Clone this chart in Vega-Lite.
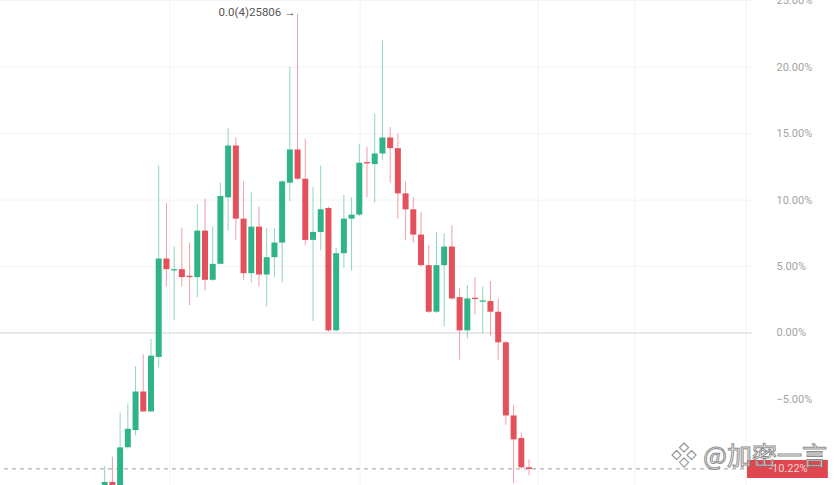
{
  "$schema": "https://vega.github.io/schema/vega-lite/v6.json",
  "width": 752,
  "height": 485,
  "padding": {"left": 0, "top": 0, "bottom": 0, "right": 84},
  "autosize": {"type": "none"},
  "background": "#ffffff",
  "config": {"view": {"stroke": null}, "font": "Roboto"},
  "datasets": {
    "candles": [
      {"i":0,"o":-12.5,"c":-11.2,"h":-10.0,"l":-13,"d":"up"},
      {"i":1,"o":-11.2,"c":-12.0,"h":-9.3,"l":-12.5,"d":"down"},
      {"i":2,"o":-12.5,"c":-8.6,"h":-6.0,"l":-12.8,"d":"up"},
      {"i":3,"o":-8.6,"c":-7.2,"h":-5.3,"l":-8.7,"d":"up"},
      {"i":4,"o":-7.3,"c":-4.4,"h":-2.5,"l":-7.7,"d":"up"},
      {"i":5,"o":-4.4,"c":-5.9,"h":-1.6,"l":-5.9,"d":"down"},
      {"i":6,"o":-5.9,"c":-1.7,"h":-0.45,"l":-5.9,"d":"up"},
      {"i":7,"o":-1.8,"c":5.6,"h":12.6,"l":-2.6,"d":"up"},
      {"i":8,"o":5.6,"c":4.8,"h":9.8,"l":3.5,"d":"down"},
      {"i":9,"o":4.7,"c":4.8,"h":6.5,"l":1.0,"d":"up"},
      {"i":10,"o":4.8,"c":4.2,"h":7.9,"l":3.5,"d":"down"},
      {"i":11,"o":4.3,"c":4.2,"h":6.8,"l":2.1,"d":"down"},
      {"i":12,"o":4.2,"c":7.7,"h":9.7,"l":2.7,"d":"up"},
      {"i":13,"o":7.7,"c":4.0,"h":10.1,"l":3.2,"d":"down"},
      {"i":14,"o":4.0,"c":5.2,"h":8.0,"l":3.9,"d":"up"},
      {"i":15,"o":5.2,"c":10.3,"h":11.3,"l":7.5,"d":"up"},
      {"i":16,"o":10.2,"c":14.1,"h":15.4,"l":7.7,"d":"up"},
      {"i":17,"o":14.1,"c":8.6,"h":14.7,"l":7.0,"d":"down"},
      {"i":18,"o":8.6,"c":4.5,"h":11.4,"l":4.0,"d":"down"},
      {"i":19,"o":4.5,"c":8.0,"h":10.6,"l":3.8,"d":"up"},
      {"i":20,"o":8.0,"c":4.4,"h":9.5,"l":3.5,"d":"down"},
      {"i":21,"o":4.4,"c":5.7,"h":7.9,"l":2.0,"d":"up"},
      {"i":22,"o":5.7,"c":6.8,"h":7.9,"l":4.2,"d":"up"},
      {"i":23,"o":6.8,"c":11.4,"h":11.5,"l":3.8,"d":"up"},
      {"i":24,"o":11.3,"c":13.8,"h":20.0,"l":9.9,"d":"up"},
      {"i":25,"o":13.8,"c":11.6,"h":24.0,"l":11.5,"d":"down"},
      {"i":26,"o":11.6,"c":7.0,"h":14.6,"l":6.6,"d":"down"},
      {"i":27,"o":7.0,"c":7.6,"h":11.0,"l":0.9,"d":"up"},
      {"i":28,"o":7.6,"c":9.3,"h":12.6,"l":6.2,"d":"up"},
      {"i":29,"o":9.4,"c":0.2,"h":9.5,"l":0.1,"d":"down"},
      {"i":30,"o":0.2,"c":6.0,"h":6.4,"l":0.1,"d":"up"},
      {"i":31,"o":6.0,"c":8.6,"h":10.4,"l":4.9,"d":"up"},
      {"i":32,"o":8.6,"c":8.9,"h":10.2,"l":4.7,"d":"up"},
      {"i":33,"o":8.9,"c":12.8,"h":14.2,"l":8.8,"d":"up"},
      {"i":34,"o":12.85,"c":12.75,"h":14.0,"l":10.2,"d":"down"},
      {"i":35,"o":12.7,"c":13.5,"h":16.5,"l":9.8,"d":"up"},
      {"i":36,"o":13.5,"c":14.7,"h":22.0,"l":13.0,"d":"up"},
      {"i":37,"o":14.7,"c":13.9,"h":15.5,"l":11.3,"d":"down"},
      {"i":38,"o":13.9,"c":10.5,"h":15.0,"l":8.6,"d":"down"},
      {"i":39,"o":10.5,"c":9.3,"h":11.4,"l":7.0,"d":"down"},
      {"i":40,"o":9.3,"c":7.4,"h":10.2,"l":6.8,"d":"down"},
      {"i":41,"o":7.4,"c":5.1,"h":9.1,"l":5.0,"d":"down"},
      {"i":42,"o":5.1,"c":1.6,"h":6.6,"l":1.5,"d":"down"},
      {"i":43,"o":1.6,"c":5.1,"h":7.6,"l":1.5,"d":"up"},
      {"i":44,"o":5.1,"c":6.5,"h":7.5,"l":0.5,"d":"up"},
      {"i":45,"o":6.5,"c":2.6,"h":8.1,"l":2.5,"d":"down"},
      {"i":46,"o":2.7,"c":0.2,"h":3.4,"l":-2.0,"d":"down"},
      {"i":47,"o":0.2,"c":2.6,"h":3.6,"l":-0.4,"d":"up"},
      {"i":48,"o":2.65,"c":2.55,"h":4.2,"l":1.4,"d":"down"},
      {"i":49,"o":2.35,"c":2.45,"h":3.5,"l":0.0,"d":"up"},
      {"i":50,"o":2.4,"c":1.6,"h":3.9,"l":-0.2,"d":"down"},
      {"i":51,"o":1.6,"c":-0.7,"h":2.6,"l":-2.0,"d":"down"},
      {"i":52,"o":-0.7,"c":-6.2,"h":-0.6,"l":-6.9,"d":"down"},
      {"i":53,"o":-6.2,"c":-8.0,"h":-5.4,"l":-11.3,"d":"down"},
      {"i":54,"o":-7.9,"c":-10.1,"h":-7.5,"l":-10.2,"d":"down"},
      {"i":55,"o":-10.1,"c":-10.22,"h":-9.5,"l":-10.7,"d":"down"}
    ],
    "vgrid": [{"i":8.44},{"i":33.1},{"i":56.2},{"i":68.7},{"i":83.15}],
    "hgrid": [{"v":5},{"v":10},{"v":15},{"v":20},{"v":25}],
    "note": [{"i":24.75,"v":24.06,"label":"0.0(4)25806 →"}],
    "tag": [{"i1":83.25,"i2":93.73,"v1":-9.55,"v2":-10.9,"ic":88.6,"vc":-10.22,"label":"-10.22%"}],
    "mark": [{"i":85.6,"v":-9.3,"label":"@加密一言"},{"i":75.1,"v":-9.35,"label":"❖"}]
  },
  "layer": [
    {
      "data": {"name": "vgrid"},
      "mark": {"type": "rule", "color": "#f3f3f3", "strokeWidth": 1},
      "encoding": {
        "x": {"field": "i", "type": "quantitative", "scale": {"domain": [-12.92, 83.25], "nice": false, "zero": false}, "axis": null}
      }
    },
    {
      "data": {"name": "hgrid"},
      "mark": {"type": "rule", "color": "#f4f4f4", "strokeWidth": 1},
      "encoding": {
        "y": {"field": "v", "type": "quantitative", "scale": {"domain": [-11.43, 25.04], "nice": false, "zero": false},
          "axis": {"orient": "right", "values": [-5, 0, 5, 10, 15, 20, 25], "labelExpr": "format(datum.value, '.2f') + '%'", "grid": false, "domain": false, "ticks": false, "labelPadding": 24, "labelColor": "#a3a3a3", "labelFontSize": 11, "labelFont": "Roboto", "labelBound": false, "title": null}}
      }
    },
    {
      "data": {"values": [{"v": 0}]},
      "mark": {"type": "rule", "color": "#d2d2d2", "strokeWidth": 1},
      "encoding": {"y": {"field": "v", "type": "quantitative"}}
    },
    {
      "data": {"values": [{"v": -10.22}]},
      "mark": {"type": "rule", "color": "#9a9a9a", "strokeWidth": 1, "strokeDash": [4, 4]},
      "encoding": {"y": {"field": "v", "type": "quantitative"}}
    },
    {
      "data": {"name": "candles"},
      "mark": {"type": "rule", "strokeWidth": 1, "opacity": 0.55, "clip": true},
      "encoding": {
        "x": {"field": "i", "type": "quantitative"},
        "y": {"field": "l", "type": "quantitative"},
        "y2": {"field": "h"},
        "color": {"field": "d", "type": "nominal", "scale": {"domain": ["up", "down"], "range": ["#2fb48a", "#e4505b"]}, "legend": null}
      }
    },
    {
      "data": {"name": "candles"},
      "mark": {"type": "bar", "size": 6, "clip": true},
      "encoding": {
        "x": {"field": "i", "type": "quantitative"},
        "y": {"field": "o", "type": "quantitative"},
        "y2": {"field": "c"},
        "color": {"field": "d", "type": "nominal", "legend": null}
      }
    },
    {
      "data": {"name": "note"},
      "mark": {"type": "text", "align": "right", "baseline": "middle", "fontSize": 11.5, "color": "#555555", "font": "Roboto"},
      "encoding": {
        "x": {"field": "i", "type": "quantitative"},
        "y": {"field": "v", "type": "quantitative"},
        "text": {"field": "label"}
      }
    },
    {
      "data": {"name": "tag"},
      "mark": {"type": "rect", "color": "#e0464f"},
      "encoding": {
        "x": {"field": "i1", "type": "quantitative"},
        "x2": {"field": "i2"},
        "y": {"field": "v1", "type": "quantitative"},
        "y2": {"field": "v2"}
      }
    },
    {
      "data": {"name": "tag"},
      "mark": {"type": "text", "align": "center", "baseline": "middle", "fontSize": 11, "color": "#f6d3d5", "font": "Roboto"},
      "encoding": {
        "x": {"field": "ic", "type": "quantitative"},
        "y": {"field": "vc", "type": "quantitative"},
        "text": {"field": "label"}
      }
    },
    {
      "data": {"name": "mark"},
      "mark": {"type": "text", "align": "center", "baseline": "middle", "fontSize": 25, "font": "Noto Sans CJK SC", "fill": "#ffffff", "stroke": "#7a7a7a", "strokeWidth": 1, "opacity": 0.85},
      "encoding": {
        "x": {"field": "i", "type": "quantitative"},
        "y": {"field": "v", "type": "quantitative"},
        "text": {"field": "label"}
      }
    }
  ]
}
